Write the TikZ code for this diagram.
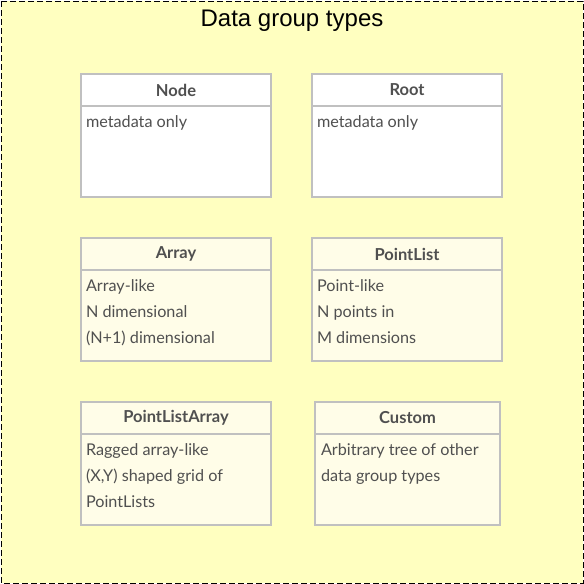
\documentclass[tikz,border=0pt]{standalone}
\usepackage{fontspec}
\setmainfont{Lato}
\newfontfamily\titlefont{Liberation Sans}
\usepackage{xcolor}
\usetikzlibrary{positioning}
\definecolor{bgyellow}{RGB}{255,255,192}
\definecolor{boxcream}{RGB}{255,253,232}
\definecolor{boxline}{RGB}{192,192,192}
\definecolor{boxtext}{RGB}{80,80,80}
\tikzstyle{frame} = [draw=black, 
dash pattern=on 6pt off 3pt, 
line width=1pt, 
fill=bgyellow]
\tikzstyle{title} = [font=\titlefont\fontsize{24}{28}\selectfont]
\tikzstyle{header} = [rectangle, 
minimum width=190pt, 
minimum height=32pt, 
inner sep=0pt, outer sep=0pt, 
draw=boxline, line width=1.5pt, 
fill=boxcream, text=boxtext, 
font=\bfseries\fontsize{16.5}{18}\selectfont]
\tikzstyle{body} = [rectangle, 
minimum width=190pt, 
minimum height=91pt, 
inner sep=0pt, outer sep=0pt, 
draw=boxline, line width=1.5pt, 
fill=boxcream, text=boxtext, 
font=\fontsize{16.2}{26}\selectfont]
\newcommand{\bodytext}[2][180pt]{\parbox[c][91pt][t]{#1}{\rule{0pt}{21pt}#2}}

\begin{document}
\begin{tikzpicture}[x=1pt, y=-1pt, node distance=41pt]
\useasboundingbox (0,0) rectangle (584,584);
\draw [frame] (1,1) rectangle (583,583);

\node (title) [title] at (292,21) {Data group types};

\node (nodeHead) [header, fill=white] at (176,90) {Node};
\node (nodeBody) [body, fill=white, below=0pt of nodeHead] {\bodytext{metadata only}};
\node (rootHead) [header, fill=white, right=of nodeHead] {Root};
\node (rootBody) [body, fill=white, below=0pt of rootHead] {\bodytext{metadata only}};

\node (arrayHead) [header, below=of nodeBody] {Array};
\node (arrayBody) [body, below=0pt of arrayHead] {\bodytext{Array-like\\
N dimensional\\
(N+1) dimensional}};
\node (pointlistHead) [header, right=of arrayHead] {PointList};
\node (pointlistBody) [body, below=0pt of pointlistHead] {\bodytext{Point-like\\
N points in\\
M dimensions}};

\node (plArrayHead) [header, below=of arrayBody] {PointListArray};
\node (plArrayBody) [body, below=0pt of plArrayHead] {\bodytext{Ragged array-like\\
(X,Y) shaped grid of\\
PointLists}};
\node (customHead) [header, minimum width=185pt, right=44pt of plArrayHead] {Custom};
\node (customBody) [body, minimum width=185pt, below=0pt of customHead] {\bodytext[173pt]{Arbitrary tree of other\\
data group types}};

\end{tikzpicture}
\end{document}
